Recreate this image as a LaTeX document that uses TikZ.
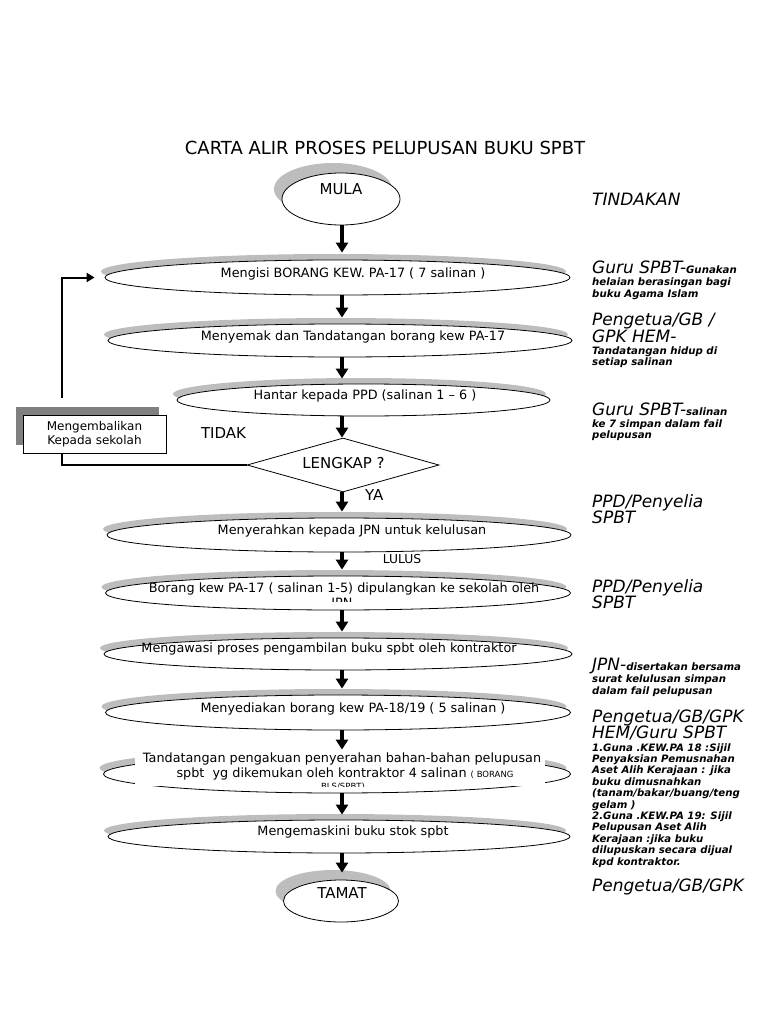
\documentclass[tikz,border=0pt]{standalone}
\usepackage{fontspec}
\setmainfont{DejaVu Sans}
\usetikzlibrary{shapes.geometric,shadows,arrows.meta}
\definecolor{shd}{gray}{0.74}
\definecolor{shddark}{gray}{0.5}
\newcommand\rbigf{\fontsize{17}{20}\selectfont\itshape}
\newcommand\rsmf{\fontsize{10.2}{11.4}\selectfont\bfseries\itshape}
\tikzset{
  flow/.style={ellipse, draw, line width=0.8pt, fill=white, inner sep=0pt,
    drop shadow={shadow xshift=-4pt, shadow yshift=6pt, fill=shd, opacity=1}},
  term/.style={ellipse, draw, line width=0.8pt, fill=white, inner sep=0pt,
    drop shadow={shadow xshift=-8pt, shadow yshift=10pt, fill=shd, opacity=1}},
  arr/.style={line width=3.2pt, -{Triangle[length=10pt,width=12pt]}},
  fb/.style={line width=2pt},
  boxt/.style={font=\fontsize{12.8}{15}\selectfont, inner sep=0pt, anchor=base},
  bigt/.style={font=\fontsize{15}{18}\selectfont, inner sep=0pt, anchor=base},
  rbig/.style={font=\rbigf, inner sep=0pt, anchor=base west},
  rsm/.style={font=\rsmf, inner sep=0pt, anchor=base west},
}
\begin{document}
\begin{tikzpicture}[x=1pt,y=-1pt]
\useasboundingbox (0,0) rectangle (768,1024);
\coordinate (ax) at (342,0);

% title
\node[font=\fontsize{18}{21}\selectfont, inner sep=0pt, anchor=base] (title) at (385,155) {CARTA ALIR PROSES PELUPUSAN BUKU SPBT};

% shapes
\node[term, minimum width=118pt, minimum height=52pt] (mula) at (341,199) {};
\node[bigt] (mulat) at (341,195) {MULA};

\node[flow, minimum width=465pt, minimum height=35pt] (b1) at (337.5,277.5) {};
\node[boxt] (t1) at (353,277) {Mengisi BORANG KEW. PA-17 ( 7 salinan )};

\node[flow, minimum width=464pt, minimum height=33pt] (b2) at (340,340.5) {};
\node[boxt] (t2) at (353,340) {Menyemak dan Tandatangan borang kew PA-17};

\node[flow, minimum width=373pt, minimum height=32pt] (b3) at (363.5,400) {};
\node[boxt] (t3) at (365,399) {Hantar kepada PPD (salinan 1 – 6 )};

\node[diamond, draw, line width=0.8pt, fill=white, inner sep=0pt, minimum width=192pt, minimum height=54pt] (dia) at (343,465) {};
\node[bigt] (lk) at (343.5,468) {LENGKAP ?};

\node[flow, minimum width=464pt, minimum height=34pt] (b4) at (339,535) {};
\node[boxt] (t4) at (352,534) {Menyerahkan kepada JPN untuk kelulusan};

\node[flow, minimum width=465pt, minimum height=34pt] (b5) at (338,593) {};
\begin{scope}
  \clip (120,570) rectangle (560,601);
  \node[boxt] (t5) at (344,592) {Borang kew PA-17 ( salinan 1-5) dipulangkan ke sekolah oleh};
  \node[boxt] (t5b) at (342,607) {JPN};
\end{scope}

\node[flow, minimum width=468pt, minimum height=32pt] (b6) at (338,654) {};
\node[boxt] (t6) at (329,652) {Mengawasi proses pengambilan buku spbt oleh kontraktor};

\node[flow, minimum width=465pt, minimum height=35pt] (b7) at (338,712.5) {};
\node[boxt] (t7) at (353,712) {Menyediakan borang kew PA-18/19 ( 5 salinan )};

\node[flow, minimum width=467pt, minimum height=38pt] (b8) at (337,774) {};
\node[fill=white, inner sep=0pt, minimum width=410pt, minimum height=41pt] (b8box) at (340,765.5) {};
\begin{scope}
  \clip (b8box.north west) rectangle (b8box.south east);
  \node[boxt] (t8a) at (342,762) {Tandatangan pengakuan penyerahan bahan-bahan pelupusan};
  \node[boxt] (t8b) at (345,777) {spbt\ \ yg dikemukan oleh kontraktor 4 salinan {\fontsize{8.5}{10}\selectfont( BORANG}};
  \node[boxt, font=\fontsize{8.5}{10}\selectfont] (t8c) at (343,789) {BLS/SPBT)};
\end{scope}

\node[flow, minimum width=462pt, minimum height=33pt] (b9) at (339,836.5) {};
\node[boxt] (t9) at (353,835) {Mengemaskini buku stok spbt};

\node[term, minimum width=115pt, minimum height=42pt] (tamat) at (341,901) {};
\node[bigt] (tamatt) at (342,898) {TAMAT};

% return box
\node[draw, line width=0.8pt, fill=white, minimum width=143pt, minimum height=38pt, inner sep=0pt,
  align=center, font=\fontsize{12}{13.5}\selectfont,
  drop shadow={shadow xshift=-7pt, shadow yshift=8pt, fill=shddark, opacity=1}] (ret) at (94.5,434)
  {Mengembalikan\\Kepada sekolah};

% labels
\node[bigt] (tidak) at (223.5,438) {TIDAK};
\node[bigt, anchor=base west] (ya) at (365,500) {YA};
\node[boxt, font=\fontsize{12.3}{14}\selectfont] (lulus) at (402,563) {LULUS};

% arrows
\draw[arr, shorten >=7pt] (mula.south -| ax) -- (b1.north -| ax);
\draw[arr, shorten >=6pt] (b1.south -| ax) -- (b2.north -| ax);
\draw[arr, shorten >=5pt] (b2.south -| ax) -- (b3.north -| ax);
\draw[arr] (b3.south -| ax) -- (dia.north -| ax);
\draw[arr, shorten >=6pt] (dia.south -| ax) -- (b4.north -| ax);
\draw[arr, shorten >=6pt] (b4.south -| ax) -- (b5.north -| ax);
\draw[arr, shorten >=6pt] (b5.south -| ax) -- (b6.north -| ax);
\draw[arr, shorten >=6pt] (b6.south -| ax) -- (b7.north -| ax);
\draw[arr, shorten >=5pt] (b7.south -| ax) -- (b8.north -| ax);
\draw[arr, shorten >=5pt] (b8.south -| ax) -- (b9.north -| ax);
\draw[arr, shorten >=7pt] (b9.south -| ax) -- (tamat.north -| ax);

% feedback
\draw[fb] (dia.west) -| ([xshift=-32.5pt]ret.south);
\draw[fb, -{Triangle[length=8pt,width=9pt]}] ([xshift=-32.5pt,yshift=17pt]ret.north) |- ([xshift=-10pt]b1.west);

% right column
\node[rbig] (r0) at (592,206) {TINDAKAN};
\node[rbig] (r1) at (592,273) {Guru SPBT-{\rsmf Gunakan}};
\node[rsm] (r1a) at (592,285) {helaian berasingan bagi};
\node[rsm] (r1b) at (592,297) {buku Agama Islam};

\node[rbig] (r2) at (592,325) {Pengetua/GB /};
\node[rbig] (r2a) at (592,342) {GPK HEM-};
\node[rsm] (r2b) at (592,354) {Tandatangan hidup di};
\node[rsm] (r2c) at (592,365.5) {setiap salinan};

\node[rbig] (r3) at (592,415) {Guru SPBT-{\rsmf salinan}};
\node[rsm] (r3a) at (592,427) {ke 7 simpan dalam fail};
\node[rsm] (r3b) at (592,438.5) {pelupusan};

\node[rbig] (r4) at (592,507) {PPD/Penyelia};
\node[rbig] (r4a) at (592,523) {SPBT};

\node[rbig] (r5) at (592,592) {PPD/Penyelia};
\node[rbig] (r5a) at (592,608) {SPBT};

\node[rbig] (r6) at (592,670) {JPN-{\rsmf disertakan bersama}};
\node[rsm] (r6a) at (592,682.5) {surat kelulusan simpan};
\node[rsm] (r6b) at (592,694) {dalam fail pelupusan};

\node[rbig] (r7) at (592,722) {Pengetua/GB/GPK};
\node[rbig] (r7a) at (592,738) {HEM/Guru SPBT};
\node[rsm] (s0) at (592,751) {1.Guna .KEW.PA 18 :Sijil};
\node[rsm] (s1) at (592,762.4) {Penyaksian Pemusnahan};
\node[rsm] (s2) at (592,773.8) {Aset Alih Kerajaan : jika};
\node[rsm] (s3) at (592,785.2) {buku dimusnahkan};
\node[rsm] (s4) at (592,796.6) {(tanam/bakar/buang/teng};
\node[rsm] (s5) at (592,808) {gelam )};
\node[rsm] (s6) at (592,819.4) {2.Guna .KEW.PA 19: Sijil};
\node[rsm] (s7) at (592,830.8) {Pelupusan Aset Alih};
\node[rsm] (s8) at (592,842.2) {Kerajaan :jika buku};
\node[rsm] (s9) at (592,853.6) {dilupuskan secara dijual};
\node[rsm] (s10) at (592,865) {kpd kontraktor.};

\node[rbig] (r8) at (592,891) {Pengetua/GB/GPK};
\end{tikzpicture}
\end{document}
